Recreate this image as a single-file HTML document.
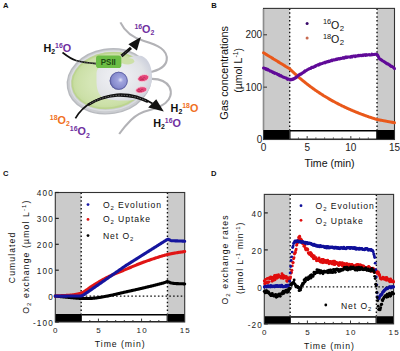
<!DOCTYPE html>
<html><head><meta charset="utf-8"><style>
html,body{margin:0;padding:0;background:#fff;width:400px;height:351px;overflow:hidden}
svg{display:block;font-family:"Liberation Sans",sans-serif}
</style></head><body>
<svg width="400" height="351" viewBox="0 0 400 351" font-family="'Liberation Sans', sans-serif"><rect x="263.50" y="8.40" width="26.20" height="121.60" fill="#cbcbcb"/>
<rect x="377.03" y="8.40" width="17.47" height="121.60" fill="#cbcbcb"/>
<rect x="263.50" y="130.00" width="26.20" height="9.50" fill="#000"/>
<rect x="377.03" y="130.00" width="17.47" height="9.50" fill="#000"/>
<rect x="289.70" y="130.00" width="87.33" height="9.50" fill="#000"/>
<rect x="290.50" y="131.50" width="85.73" height="7.10" fill="#fff"/>
<line x1="289.70" y1="8.40" x2="289.70" y2="130.00" stroke="#111" stroke-width="1.4" stroke-dasharray="1.5,2.4"/>
<line x1="377.03" y1="8.40" x2="377.03" y2="130.00" stroke="#111" stroke-width="1.4" stroke-dasharray="1.5,2.4"/>
<line x1="298.43" y1="138.60" x2="298.43" y2="137.50" stroke="#222" stroke-width="0.9"/>
<line x1="307.17" y1="138.60" x2="307.17" y2="136.10" stroke="#222" stroke-width="0.9"/>
<line x1="315.90" y1="138.60" x2="315.90" y2="137.50" stroke="#222" stroke-width="0.9"/>
<line x1="324.63" y1="138.60" x2="324.63" y2="137.50" stroke="#222" stroke-width="0.9"/>
<line x1="333.37" y1="138.60" x2="333.37" y2="137.50" stroke="#222" stroke-width="0.9"/>
<line x1="342.10" y1="138.60" x2="342.10" y2="137.50" stroke="#222" stroke-width="0.9"/>
<line x1="350.83" y1="138.60" x2="350.83" y2="136.10" stroke="#222" stroke-width="0.9"/>
<line x1="359.57" y1="138.60" x2="359.57" y2="137.50" stroke="#222" stroke-width="0.9"/>
<line x1="368.30" y1="138.60" x2="368.30" y2="137.50" stroke="#222" stroke-width="0.9"/>
<rect x="263.50" y="8.40" width="131.00" height="131.10" fill="none" stroke="#333" stroke-width="1.1"/>
<line x1="263.50" y1="9.00" x2="263.50" y2="130.00" stroke="#8c8c8c" stroke-width="1.5"/>
<line x1="263.50" y1="87.15" x2="267.00" y2="87.15" stroke="#333" stroke-width="1"/>
<text x="262.20" y="90.75" font-size="10" text-anchor="end" font-weight="normal" fill="#222" >100</text>
<line x1="263.50" y1="34.80" x2="267.00" y2="34.80" stroke="#333" stroke-width="1"/>
<text x="262.20" y="38.40" font-size="10" text-anchor="end" font-weight="normal" fill="#222" >200</text>
<text x="262.20" y="143.40" font-size="10" text-anchor="end" font-weight="normal" fill="#222" >0</text>
<text x="263.50" y="151.20" font-size="10" text-anchor="middle" font-weight="normal" fill="#222" >0</text>
<text x="307.17" y="151.20" font-size="10" text-anchor="middle" font-weight="normal" fill="#222" >5</text>
<text x="350.83" y="151.20" font-size="10" text-anchor="middle" font-weight="normal" fill="#222" >10</text>
<text x="394.50" y="151.20" font-size="10" text-anchor="middle" font-weight="normal" fill="#222" >15</text>
<text x="329.50" y="166.50" font-size="10.6" text-anchor="middle" font-weight="normal" fill="#111" >Time (min)</text>
<g transform="translate(227.6,72.9) rotate(-90)"><text x="0" y="0" font-size="10.9" text-anchor="middle" fill="#111">Gas concentrations</text></g>
<g transform="translate(242.2,70.4) rotate(-90)"><text x="0" y="0" font-size="10.5" text-anchor="middle" fill="#111">(µmol L<tspan dy="-4" font-size="6.8">-1</tspan><tspan dy="4">)</tspan></text></g>
<polyline points="263.50,52.76 263.94,53.02 264.37,53.29 264.81,53.56 265.25,53.83 265.68,54.10 266.12,54.36 266.56,54.63 266.99,54.90 267.43,55.17 267.87,55.43 268.30,55.70 268.74,55.97 269.18,56.24 269.61,56.51 270.05,56.77 270.49,57.04 270.92,57.31 271.36,57.58 271.80,57.85 272.23,58.11 272.67,58.38 273.11,58.65 273.54,58.92 273.98,59.18 274.42,59.45 274.85,59.72 275.29,59.99 275.73,60.26 276.16,60.52 276.60,60.79 277.04,61.06 277.47,61.33 277.91,61.60 278.35,61.86 278.78,62.13 279.22,62.40 279.66,62.67 280.09,62.93 280.53,63.20 280.97,63.47 281.40,63.74 281.84,64.01 282.28,64.27 282.71,64.54 283.15,64.81 283.59,65.08 284.02,65.35 284.46,65.61 284.90,65.88 285.33,66.15 285.77,66.42 286.21,66.68 286.64,66.95 287.08,67.22 287.52,67.49 287.95,67.76 288.39,68.02 288.83,68.29 289.26,68.56 289.70,68.83 290.14,69.25 290.57,69.68 291.01,70.10 291.45,70.52 291.88,70.94 292.32,71.35 292.76,71.76 293.19,72.17 293.63,72.58 294.07,72.99 294.50,73.39 294.94,73.79 295.38,74.19 295.81,74.58 296.25,74.98 296.69,75.37 297.12,75.76 297.56,76.15 298.00,76.53 298.43,76.91 298.87,77.29 299.31,77.67 299.74,78.05 300.18,78.42 300.62,78.79 301.05,79.16 301.49,79.53 301.93,79.89 302.36,80.25 302.80,80.62 303.24,80.97 303.67,81.33 304.11,81.69 304.55,82.04 304.98,82.39 305.42,82.74 305.86,83.08 306.29,83.43 306.73,83.77 307.17,84.11 307.60,84.45 308.04,84.79 308.48,85.12 308.91,85.45 309.35,85.78 309.79,86.11 310.22,86.44 310.66,86.76 311.10,87.09 311.53,87.41 311.97,87.73 312.41,88.05 312.84,88.36 313.28,88.68 313.72,88.99 314.15,89.30 314.59,89.61 315.03,89.91 315.46,90.22 315.90,90.52 316.34,90.82 316.77,91.12 317.21,91.42 317.65,91.72 318.08,92.01 318.52,92.30 318.96,92.60 319.39,92.88 319.83,93.17 320.27,93.46 320.70,93.74 321.14,94.03 321.58,94.31 322.01,94.59 322.45,94.86 322.89,95.14 323.32,95.42 323.76,95.69 324.20,95.96 324.63,96.23 325.07,96.50 325.51,96.77 325.94,97.03 326.38,97.29 326.82,97.56 327.25,97.82 327.69,98.08 328.13,98.33 328.56,98.59 329.00,98.85 329.44,99.10 329.87,99.35 330.31,99.60 330.75,99.85 331.18,100.10 331.62,100.34 332.06,100.59 332.49,100.83 332.93,101.07 333.37,101.31 333.80,101.55 334.24,101.79 334.68,102.03 335.11,102.26 335.55,102.49 335.99,102.73 336.42,102.96 336.86,103.19 337.30,103.41 337.73,103.64 338.17,103.87 338.61,104.09 339.04,104.31 339.48,104.54 339.92,104.76 340.35,104.98 340.79,105.19 341.23,105.41 341.66,105.63 342.10,105.84 342.54,106.05 342.97,106.26 343.41,106.47 343.85,106.68 344.28,106.89 344.72,107.10 345.16,107.30 345.59,107.51 346.03,107.71 346.47,107.91 346.90,108.11 347.34,108.31 347.78,108.51 348.21,108.71 348.65,108.91 349.09,109.10 349.52,109.29 349.96,109.49 350.40,109.68 350.83,109.87 351.27,110.06 351.71,110.25 352.14,110.44 352.58,110.62 353.02,110.81 353.45,110.99 353.89,111.17 354.33,111.36 354.76,111.54 355.20,111.72 355.64,111.90 356.07,112.07 356.51,112.25 356.95,112.43 357.38,112.60 357.82,112.77 358.26,112.95 358.69,113.12 359.13,113.29 359.57,113.46 360.00,113.63 360.44,113.80 360.88,113.96 361.31,114.13 361.75,114.29 362.19,114.46 362.62,114.62 363.06,114.78 363.50,114.94 363.93,115.10 364.37,115.26 364.81,115.42 365.24,115.58 365.68,115.74 366.12,115.89 366.55,116.05 366.99,116.20 367.43,116.35 367.86,116.50 368.30,116.66 368.74,116.81 369.17,116.96 369.61,117.10 370.05,117.25 370.48,117.40 370.92,117.54 371.36,117.69 371.79,117.83 372.23,117.98 372.67,118.12 373.10,118.26 373.54,118.40 373.98,118.54 374.41,118.68 374.85,118.82 375.29,118.96 375.72,119.10 376.16,119.23 376.60,119.37 377.03,119.50 377.47,119.58 377.91,119.66 378.34,119.74 378.78,119.83 379.22,119.91 379.65,119.99 380.09,120.07 380.53,120.15 380.96,120.23 381.40,120.31 381.84,120.39 382.27,120.48 382.71,120.56 383.15,120.64 383.58,120.72 384.02,120.80 384.46,120.88 384.89,120.96 385.33,121.04 385.77,121.12 386.20,121.21 386.64,121.29 387.08,121.37 387.51,121.45 387.95,121.53 388.39,121.61 388.82,121.69 389.26,121.77 389.70,121.86 390.13,121.94 390.57,122.02 391.01,122.10 391.44,122.18 391.88,122.26 392.32,122.34 392.75,122.42 393.19,122.50 393.63,122.59 394.06,122.67 394.50,122.75" fill="none" stroke="#e9581a" stroke-width="3" stroke-linejoin="round" stroke-linecap="round" />
<polyline points="263.50,68.00 263.94,67.95 264.37,68.30 264.81,68.31 265.25,68.50 265.68,69.17 266.12,69.42 266.56,68.93 266.99,69.62 267.43,69.85 267.87,69.42 268.30,70.06 268.74,69.96 269.18,70.47 269.61,70.53 270.05,71.15 270.49,70.95 270.92,70.96 271.36,71.45 271.80,71.47 272.23,71.74 272.67,72.45 273.11,72.08 273.54,72.42 273.98,72.87 274.42,73.30 274.85,72.81 275.29,73.34 275.73,73.34 276.16,73.41 276.60,73.75 277.04,73.78 277.47,74.43 277.91,74.29 278.35,74.80 278.78,74.59 279.22,74.84 279.66,75.70 280.09,75.88 280.53,76.01 280.97,75.59 281.40,76.24 281.84,76.29 282.28,76.76 282.71,76.80 283.15,77.10 283.59,77.34 284.02,77.35 284.46,77.55 284.90,77.49 285.33,77.88 285.77,77.88 286.21,78.14 286.64,78.26 287.08,78.74 287.52,79.34 287.95,78.91 288.39,78.95 288.83,79.10 289.26,79.46 289.70,79.39 290.14,79.84 290.57,79.32 291.01,79.51 291.45,79.70 291.88,79.80 292.32,79.04 292.76,78.79 293.19,79.39 293.63,78.62 294.07,78.74 294.50,78.72 294.94,78.34 295.38,77.66 295.81,77.26 296.25,77.61 296.69,76.80 297.12,76.94 297.56,76.05 298.00,76.05 298.43,75.27 298.87,74.87 299.31,74.96 299.74,74.24 300.18,74.51 300.62,74.41 301.05,73.68 301.49,73.86 301.93,73.44 302.36,72.98 302.80,72.53 303.24,72.63 303.67,72.46 304.11,71.50 304.55,71.70 304.98,70.90 305.42,70.69 305.86,70.87 306.29,70.55 306.73,70.25 307.17,69.91 307.60,69.71 308.04,69.50 308.48,69.21 308.91,68.71 309.35,68.85 309.79,68.69 310.22,68.22 310.66,68.41 311.10,68.14 311.53,67.36 311.97,67.53 312.41,67.30 312.84,67.55 313.28,67.01 313.72,66.67 314.15,66.94 314.59,66.25 315.03,66.04 315.46,66.33 315.90,65.67 316.34,65.62 316.77,65.26 317.21,65.36 317.65,64.88 318.08,64.68 318.52,65.11 318.96,64.91 319.39,64.23 319.83,63.82 320.27,64.26 320.70,63.92 321.14,63.65 321.58,63.72 322.01,63.53 322.45,63.42 322.89,63.23 323.32,62.89 323.76,62.99 324.20,62.78 324.63,62.31 325.07,62.79 325.51,62.20 325.94,61.92 326.38,62.15 326.82,62.09 327.25,61.47 327.69,61.81 328.13,61.73 328.56,61.39 329.00,61.05 329.44,61.43 329.87,61.12 330.31,60.99 330.75,60.46 331.18,60.67 331.62,60.21 332.06,60.67 332.49,60.42 332.93,60.04 333.37,59.74 333.80,59.99 334.24,60.08 334.68,60.06 335.11,59.62 335.55,59.80 335.99,59.18 336.42,59.06 336.86,59.51 337.30,59.33 337.73,58.80 338.17,58.84 338.61,58.61 339.04,58.91 339.48,59.00 339.92,58.77 340.35,58.26 340.79,58.62 341.23,58.47 341.66,58.32 342.10,58.24 342.54,58.17 342.97,57.66 343.41,58.22 343.85,58.27 344.28,57.40 344.72,57.38 345.16,57.21 345.59,57.60 346.03,57.10 346.47,57.04 346.90,57.56 347.34,57.05 347.78,56.91 348.21,56.99 348.65,57.04 349.09,57.16 349.52,57.05 349.96,57.08 350.40,57.15 350.83,56.65 351.27,56.84 351.71,56.35 352.14,56.93 352.58,56.15 353.02,56.26 353.45,56.01 353.89,55.98 354.33,55.92 354.76,56.13 355.20,56.55 355.64,55.88 356.07,56.31 356.51,56.15 356.95,55.79 357.38,55.86 357.82,55.90 358.26,55.41 358.69,55.63 359.13,55.81 359.57,55.84 360.00,55.28 360.44,55.55 360.88,55.25 361.31,55.57 361.75,55.65 362.19,55.32 362.62,55.04 363.06,55.54 363.50,54.98 363.93,54.83 364.37,54.88 364.81,54.83 365.24,55.47 365.68,54.91 366.12,54.67 366.55,55.31 366.99,55.09 367.43,55.06 367.86,54.80 368.30,54.85 368.74,54.77 369.17,54.48 369.61,55.10 370.05,55.02 370.48,54.92 370.92,54.89 371.36,54.90 371.79,54.11 372.23,54.18 372.67,54.79 373.10,54.41 373.54,54.54 373.98,54.51 374.41,54.44 374.85,54.17 375.29,54.19 375.72,54.35 376.16,54.46 376.60,54.32 377.03,54.46 377.47,54.89 377.91,55.54 378.34,56.61 378.78,57.65 379.22,58.36 379.65,58.99 380.09,59.07 380.53,59.20 380.96,59.81 381.40,59.74 381.84,60.16 382.27,60.60 382.71,60.93 383.15,61.10 383.58,61.21 384.02,61.72 384.46,61.77 384.89,62.24 385.33,62.70 385.77,62.73 386.20,62.87 386.64,63.67 387.08,63.66 387.51,63.93 387.95,63.83 388.39,64.06 388.82,64.81 389.26,64.64 389.70,65.01 390.13,65.73 390.57,65.84 391.01,66.40 391.44,66.10 391.88,66.51 392.32,66.59 392.75,66.95 393.19,67.33 393.63,67.55 394.06,67.97 394.50,68.64" fill="none" stroke="#600a98" stroke-width="3" stroke-linejoin="round" stroke-linecap="round" />
<circle cx="307.1" cy="23.4" r="1.5" fill="#3a0a6a"/>
<circle cx="307.1" cy="38.1" r="1.5" fill="#c86a50"/>
<text x="322.9" y="28.6" font-size="10.6" fill="#111"><tspan font-size="7.4" dy="-4.4">16</tspan><tspan dy="4.4" dx="-0.2">O</tspan><tspan font-size="7.8" dy="2" dx="0.6">2</tspan></text>
<text x="322.9" y="43.0" font-size="10.6" fill="#111"><tspan font-size="7.4" dy="-4.4">18</tspan><tspan dy="4.4" dx="-0.2">O</tspan><tspan font-size="7.8" dy="2" dx="0.6">2</tspan></text>
<rect x="55.30" y="192.50" width="25.88" height="121.50" fill="#cbcbcb"/>
<rect x="167.45" y="192.50" width="17.25" height="121.50" fill="#cbcbcb"/>
<rect x="55.30" y="314.00" width="25.88" height="8.00" fill="#000"/>
<rect x="167.45" y="314.00" width="17.25" height="8.00" fill="#000"/>
<rect x="81.18" y="314.00" width="86.27" height="8.00" fill="#000"/>
<rect x="81.98" y="315.50" width="84.67" height="5.60" fill="#fff"/>
<line x1="81.18" y1="192.50" x2="81.18" y2="314.00" stroke="#111" stroke-width="1.4" stroke-dasharray="1.5,2.4"/>
<line x1="167.45" y1="192.50" x2="167.45" y2="314.00" stroke="#111" stroke-width="1.4" stroke-dasharray="1.5,2.4"/>
<line x1="89.81" y1="321.10" x2="89.81" y2="320.00" stroke="#222" stroke-width="0.9"/>
<line x1="98.43" y1="321.10" x2="98.43" y2="318.60" stroke="#222" stroke-width="0.9"/>
<line x1="107.06" y1="321.10" x2="107.06" y2="320.00" stroke="#222" stroke-width="0.9"/>
<line x1="115.69" y1="321.10" x2="115.69" y2="320.00" stroke="#222" stroke-width="0.9"/>
<line x1="124.31" y1="321.10" x2="124.31" y2="320.00" stroke="#222" stroke-width="0.9"/>
<line x1="132.94" y1="321.10" x2="132.94" y2="320.00" stroke="#222" stroke-width="0.9"/>
<line x1="141.57" y1="321.10" x2="141.57" y2="318.60" stroke="#222" stroke-width="0.9"/>
<line x1="150.19" y1="321.10" x2="150.19" y2="320.00" stroke="#222" stroke-width="0.9"/>
<line x1="158.82" y1="321.10" x2="158.82" y2="320.00" stroke="#222" stroke-width="0.9"/>
<rect x="55.30" y="192.50" width="129.40" height="129.50" fill="none" stroke="#333" stroke-width="1.1"/>
<line x1="55.30" y1="296.10" x2="184.70" y2="296.10" stroke="#111" stroke-width="1.4" stroke-dasharray="1.6,2.2"/>
<line x1="55.30" y1="192.50" x2="58.80" y2="192.50" stroke="#222" stroke-width="1.2"/>
<text x="54.10" y="196.10" font-size="8.2" text-anchor="end" font-weight="normal" fill="#222" letter-spacing="1.2" >400</text>
<line x1="55.30" y1="218.40" x2="58.80" y2="218.40" stroke="#222" stroke-width="1.2"/>
<text x="54.10" y="222.00" font-size="8.2" text-anchor="end" font-weight="normal" fill="#222" letter-spacing="1.2" >300</text>
<line x1="55.30" y1="244.30" x2="58.80" y2="244.30" stroke="#222" stroke-width="1.2"/>
<text x="54.10" y="247.90" font-size="8.2" text-anchor="end" font-weight="normal" fill="#222" letter-spacing="1.2" >200</text>
<line x1="55.30" y1="270.20" x2="58.80" y2="270.20" stroke="#222" stroke-width="1.2"/>
<text x="54.10" y="273.80" font-size="8.2" text-anchor="end" font-weight="normal" fill="#222" letter-spacing="1.2" >100</text>
<line x1="55.30" y1="296.10" x2="58.80" y2="296.10" stroke="#222" stroke-width="1.2"/>
<text x="54.10" y="299.70" font-size="8.2" text-anchor="end" font-weight="normal" fill="#222" letter-spacing="1.2" >0</text>
<line x1="55.30" y1="322.00" x2="58.80" y2="322.00" stroke="#222" stroke-width="1.2"/>
<text x="54.10" y="325.60" font-size="8.2" text-anchor="end" font-weight="normal" fill="#222" letter-spacing="1.2" >-100</text>
<text x="55.90" y="333.20" font-size="8" text-anchor="middle" font-weight="normal" fill="#222" letter-spacing="1.2" >0</text>
<text x="99.03" y="333.20" font-size="8" text-anchor="middle" font-weight="normal" fill="#222" letter-spacing="1.2" >5</text>
<text x="142.17" y="333.20" font-size="8" text-anchor="middle" font-weight="normal" fill="#222" letter-spacing="1.2" >10</text>
<text x="185.30" y="333.20" font-size="8" text-anchor="middle" font-weight="normal" fill="#222" letter-spacing="1.2" >15</text>
<text x="120.20" y="346.60" font-size="8.7" text-anchor="middle" font-weight="normal" fill="#111" letter-spacing="0.96" >Time (min)</text>
<g transform="translate(15.3,257.4) rotate(-90)"><text x="0" y="0" font-size="8.6" text-anchor="middle" fill="#111" letter-spacing="1.1">Cumulated</text></g>
<g transform="translate(28.8,256.6) rotate(-90)"><text x="0" y="0" font-size="8.6" text-anchor="middle" fill="#111" letter-spacing="1.15">O<tspan font-size="5.9" dy="2">2</tspan><tspan dy="-2"> exchange (µmol L</tspan><tspan font-size="5.9" dy="-3">-1</tspan><tspan dy="3">)</tspan></text></g>
<polyline points="55.30,296.10 55.95,296.16 56.59,296.23 57.24,296.29 57.89,296.35 58.53,296.42 59.18,296.48 59.83,296.55 60.48,296.61 61.12,296.68 61.77,296.74 62.42,296.81 63.06,296.88 63.71,296.94 64.36,297.01 65.00,297.07 65.65,297.14 66.30,297.20 66.95,297.26 67.59,297.33 68.24,297.39 68.89,297.45 69.53,297.52 70.18,297.58 70.83,297.64 71.47,297.70 72.12,297.76 72.77,297.81 73.42,297.87 74.06,297.93 74.71,297.98 75.36,298.03 76.00,298.09 76.65,298.15 77.30,298.21 77.94,298.27 78.59,298.32 79.24,298.37 79.89,298.40 80.53,298.42 81.18,298.43 81.83,298.43 82.47,298.43 83.12,298.43 83.77,298.43 84.41,298.43 85.06,298.43 85.71,298.43 86.36,298.43 87.00,298.43 87.65,298.43 88.30,298.43 88.94,298.43 89.59,298.43 90.24,298.43 90.88,298.42 91.53,298.39 92.18,298.36 92.83,298.31 93.47,298.26 94.12,298.20 94.77,298.13 95.41,298.06 96.06,297.98 96.71,297.89 97.35,297.80 98.00,297.70 98.65,297.59 99.30,297.49 99.94,297.38 100.59,297.27 101.24,297.15 101.88,297.04 102.53,296.92 103.18,296.81 103.82,296.69 104.47,296.58 105.12,296.47 105.77,296.35 106.41,296.23 107.06,296.11 107.71,295.99 108.35,295.86 109.00,295.73 109.65,295.60 110.29,295.46 110.94,295.32 111.59,295.18 112.24,295.04 112.88,294.90 113.53,294.76 114.18,294.61 114.82,294.46 115.47,294.31 116.12,294.16 116.76,294.01 117.41,293.86 118.06,293.71 118.71,293.56 119.35,293.41 120.00,293.26 120.65,293.10 121.29,292.95 121.94,292.80 122.59,292.65 123.23,292.51 123.88,292.36 124.53,292.21 125.18,292.07 125.82,291.92 126.47,291.78 127.12,291.63 127.76,291.49 128.41,291.35 129.06,291.20 129.70,291.06 130.35,290.91 131.00,290.77 131.65,290.63 132.29,290.48 132.94,290.34 133.59,290.19 134.23,290.05 134.88,289.90 135.53,289.76 136.17,289.61 136.82,289.46 137.47,289.32 138.12,289.17 138.76,289.02 139.41,288.87 140.06,288.72 140.70,288.57 141.35,288.42 142.00,288.27 142.64,288.12 143.29,287.97 143.94,287.81 144.59,287.66 145.23,287.50 145.88,287.35 146.53,287.19 147.17,287.04 147.82,286.88 148.47,286.73 149.11,286.58 149.76,286.42 150.41,286.27 151.06,286.12 151.70,285.96 152.35,285.81 153.00,285.65 153.64,285.50 154.29,285.34 154.94,285.18 155.58,285.02 156.23,284.86 156.88,284.70 157.53,284.53 158.17,284.37 158.82,284.20 159.47,284.03 160.11,283.85 160.76,283.68 161.41,283.50 162.05,283.32 162.70,283.14 163.35,282.95 164.00,282.76 164.64,282.57 165.29,282.34 165.94,282.05 166.58,281.77 167.23,281.61 167.88,281.64 168.52,281.85 169.17,282.15 169.82,282.48 170.47,282.76 171.11,282.94 171.76,283.06 172.41,283.17 173.05,283.27 173.70,283.35 174.35,283.42 174.99,283.48 175.64,283.53 176.29,283.58 176.94,283.61 177.58,283.65 178.23,283.67 178.88,283.69 179.52,283.71 180.17,283.73 180.82,283.75 181.46,283.77 182.11,283.79 182.76,283.82 183.41,283.85 184.05,283.88 184.70,283.93" fill="none" stroke="#000" stroke-width="3.1" stroke-linejoin="round" stroke-linecap="round" />
<polyline points="55.30,296.10 55.95,296.03 56.59,295.97 57.24,295.91 57.89,295.86 58.53,295.82 59.18,295.77 59.83,295.73 60.48,295.70 61.12,295.66 61.77,295.63 62.42,295.60 63.06,295.57 63.71,295.54 64.36,295.51 65.00,295.48 65.65,295.45 66.30,295.42 66.95,295.38 67.59,295.34 68.24,295.30 68.89,295.26 69.53,295.21 70.18,295.15 70.83,295.09 71.47,295.03 72.12,294.96 72.77,294.88 73.42,294.79 74.06,294.70 74.71,294.59 75.36,294.48 76.00,294.36 76.65,294.23 77.30,294.09 77.94,293.94 78.59,293.77 79.24,293.60 79.89,293.41 80.53,293.21 81.18,292.99 81.83,292.75 82.47,292.46 83.12,292.14 83.77,291.78 84.41,291.40 85.06,290.98 85.71,290.55 86.36,290.10 87.00,289.64 87.65,289.18 88.30,288.70 88.94,288.23 89.59,287.76 90.24,287.31 90.88,286.86 91.53,286.43 92.18,286.03 92.83,285.63 93.47,285.24 94.12,284.84 94.77,284.45 95.41,284.05 96.06,283.65 96.71,283.26 97.35,282.87 98.00,282.48 98.65,282.09 99.30,281.70 99.94,281.32 100.59,280.94 101.24,280.56 101.88,280.19 102.53,279.82 103.18,279.46 103.82,279.10 104.47,278.75 105.12,278.40 105.77,278.06 106.41,277.73 107.06,277.41 107.71,277.09 108.35,276.78 109.00,276.47 109.65,276.16 110.29,275.87 110.94,275.57 111.59,275.28 112.24,275.00 112.88,274.72 113.53,274.44 114.18,274.16 114.82,273.89 115.47,273.62 116.12,273.35 116.76,273.08 117.41,272.82 118.06,272.55 118.71,272.29 119.35,272.03 120.00,271.77 120.65,271.50 121.29,271.24 121.94,270.98 122.59,270.72 123.23,270.45 123.88,270.18 124.53,269.92 125.18,269.65 125.82,269.37 126.47,269.10 127.12,268.83 127.76,268.56 128.41,268.29 129.06,268.02 129.70,267.74 130.35,267.47 131.00,267.20 131.65,266.93 132.29,266.66 132.94,266.39 133.59,266.13 134.23,265.86 134.88,265.59 135.53,265.33 136.17,265.07 136.82,264.81 137.47,264.55 138.12,264.29 138.76,264.03 139.41,263.78 140.06,263.53 140.70,263.28 141.35,263.03 142.00,262.79 142.64,262.54 143.29,262.30 143.94,262.06 144.59,261.83 145.23,261.59 145.88,261.36 146.53,261.12 147.17,260.89 147.82,260.66 148.47,260.44 149.11,260.21 149.76,259.99 150.41,259.76 151.06,259.54 151.70,259.32 152.35,259.10 153.00,258.89 153.64,258.67 154.29,258.46 154.94,258.24 155.58,258.03 156.23,257.82 156.88,257.61 157.53,257.41 158.17,257.20 158.82,257.00 159.47,256.79 160.11,256.59 160.76,256.39 161.41,256.20 162.05,256.00 162.70,255.81 163.35,255.62 164.00,255.44 164.64,255.26 165.29,255.08 165.94,254.91 166.58,254.74 167.23,254.58 167.88,254.43 168.52,254.28 169.17,254.14 169.82,254.00 170.47,253.87 171.11,253.74 171.76,253.62 172.41,253.50 173.05,253.38 173.70,253.26 174.35,253.15 174.99,253.03 175.64,252.92 176.29,252.81 176.94,252.70 177.58,252.60 178.23,252.50 178.88,252.40 179.52,252.30 180.17,252.21 180.82,252.11 181.46,252.02 182.11,251.93 182.76,251.84 183.41,251.74 184.05,251.65 184.70,251.55" fill="none" stroke="#e01515" stroke-width="3.1" stroke-linejoin="round" stroke-linecap="round" />
<polyline points="55.30,296.10 55.95,296.10 56.59,296.10 57.24,296.10 57.89,296.09 58.53,296.09 59.18,296.09 59.83,296.09 60.48,296.09 61.12,296.09 61.77,296.09 62.42,296.09 63.06,296.08 63.71,296.08 64.36,296.08 65.00,296.08 65.65,296.08 66.30,296.08 66.95,296.08 67.59,296.07 68.24,296.07 68.89,296.07 69.53,296.07 70.18,296.07 70.83,296.07 71.47,296.07 72.12,296.07 72.77,296.06 73.42,296.06 74.06,296.06 74.71,296.06 75.36,296.06 76.00,296.06 76.65,296.06 77.30,296.06 77.94,296.05 78.59,296.05 79.24,296.05 79.89,296.05 80.53,296.05 81.18,295.90 81.83,295.69 82.47,295.47 83.12,295.18 83.77,294.76 84.41,294.34 85.06,293.92 85.71,293.49 86.36,293.04 87.00,292.59 87.65,292.14 88.30,291.69 88.94,291.24 89.59,290.78 90.24,290.33 90.88,289.88 91.53,289.43 92.18,288.98 92.83,288.53 93.47,288.08 94.12,287.63 94.77,287.18 95.41,286.73 96.06,286.28 96.71,285.83 97.35,285.38 98.00,284.93 98.65,284.48 99.30,284.02 99.94,283.57 100.59,283.12 101.24,282.67 101.88,282.22 102.53,281.77 103.18,281.32 103.82,280.87 104.47,280.42 105.12,279.97 105.77,279.52 106.41,279.07 107.06,278.62 107.71,278.17 108.35,277.71 109.00,277.26 109.65,276.81 110.29,276.36 110.94,275.91 111.59,275.46 112.24,275.01 112.88,274.56 113.53,274.11 114.18,273.66 114.82,273.21 115.47,272.76 116.12,272.31 116.76,271.86 117.41,271.40 118.06,270.95 118.71,270.50 119.35,270.05 120.00,269.60 120.65,269.15 121.29,268.70 121.94,268.25 122.59,267.80 123.23,267.35 123.88,266.90 124.53,266.45 125.18,266.00 125.82,265.59 126.47,265.19 127.12,264.78 127.76,264.37 128.41,263.96 129.06,263.56 129.70,263.15 130.35,262.74 131.00,262.33 131.65,261.93 132.29,261.52 132.94,261.11 133.59,260.70 134.23,260.30 134.88,259.89 135.53,259.48 136.17,259.07 136.82,258.67 137.47,258.26 138.12,257.85 138.76,257.44 139.41,257.04 140.06,256.63 140.70,256.22 141.35,255.81 142.00,255.41 142.64,255.00 143.29,254.59 143.94,254.18 144.59,253.78 145.23,253.37 145.88,252.96 146.53,252.55 147.17,252.15 147.82,251.74 148.47,251.33 149.11,250.92 149.76,250.52 150.41,250.11 151.06,249.70 151.70,249.29 152.35,248.89 153.00,248.48 153.64,248.07 154.29,247.66 154.94,247.26 155.58,246.85 156.23,246.44 156.88,246.03 157.53,245.63 158.17,245.22 158.82,244.81 159.47,244.40 160.11,244.00 160.76,243.59 161.41,243.18 162.05,242.77 162.70,242.37 163.35,241.96 164.00,241.55 164.64,241.14 165.29,240.74 165.94,240.33 166.58,239.92 167.23,239.51 167.88,239.38 168.52,239.38 169.17,239.64 169.82,240.03 170.47,240.41 171.11,240.68 171.76,240.71 172.41,240.73 173.05,240.75 173.70,240.78 174.35,240.80 174.99,240.83 175.64,240.85 176.29,240.88 176.94,240.90 177.58,240.92 178.23,240.95 178.88,240.97 179.52,241.00 180.17,241.02 180.82,241.05 181.46,241.07 182.11,241.09 182.76,241.12 183.41,241.14 184.05,241.17 184.70,241.19" fill="none" stroke="#15159e" stroke-width="3.1" stroke-linejoin="round" stroke-linecap="round" />
<circle cx="88" cy="204.6" r="1.4" fill="#1a1aa6"/>
<circle cx="88" cy="219.4" r="1.4" fill="#e01515"/>
<circle cx="88" cy="235.6" r="1.4" fill="#000"/>
<text x="102.9" y="207.8" font-size="8.6" fill="#111" letter-spacing="0.95">O<tspan font-size="5.9" dy="2">2</tspan><tspan dy="-2"> Evolution</tspan></text>
<text x="102.9" y="222.4" font-size="8.6" fill="#111" letter-spacing="0.95">O<tspan font-size="5.9" dy="2">2</tspan><tspan dy="-2"> Uptake</tspan></text>
<text x="102.9" y="238.9" font-size="8.6" fill="#111" letter-spacing="0.95">Net O<tspan font-size="5.9" dy="2">2</tspan></text>
<rect x="264.30" y="194.40" width="25.86" height="121.80" fill="#cbcbcb"/>
<rect x="376.36" y="194.40" width="17.24" height="121.80" fill="#cbcbcb"/>
<rect x="264.30" y="316.20" width="25.86" height="7.70" fill="#000"/>
<rect x="376.36" y="316.20" width="17.24" height="7.70" fill="#000"/>
<rect x="290.16" y="316.20" width="86.20" height="7.70" fill="#000"/>
<rect x="290.96" y="317.70" width="84.60" height="5.30" fill="#fff"/>
<line x1="290.16" y1="194.40" x2="290.16" y2="316.20" stroke="#111" stroke-width="1.4" stroke-dasharray="1.5,2.4"/>
<line x1="376.36" y1="194.40" x2="376.36" y2="316.20" stroke="#111" stroke-width="1.4" stroke-dasharray="1.5,2.4"/>
<line x1="298.78" y1="323.00" x2="298.78" y2="321.90" stroke="#222" stroke-width="0.9"/>
<line x1="307.40" y1="323.00" x2="307.40" y2="320.50" stroke="#222" stroke-width="0.9"/>
<line x1="316.02" y1="323.00" x2="316.02" y2="321.90" stroke="#222" stroke-width="0.9"/>
<line x1="324.64" y1="323.00" x2="324.64" y2="321.90" stroke="#222" stroke-width="0.9"/>
<line x1="333.26" y1="323.00" x2="333.26" y2="321.90" stroke="#222" stroke-width="0.9"/>
<line x1="341.88" y1="323.00" x2="341.88" y2="321.90" stroke="#222" stroke-width="0.9"/>
<line x1="350.50" y1="323.00" x2="350.50" y2="320.50" stroke="#222" stroke-width="0.9"/>
<line x1="359.12" y1="323.00" x2="359.12" y2="321.90" stroke="#222" stroke-width="0.9"/>
<line x1="367.74" y1="323.00" x2="367.74" y2="321.90" stroke="#222" stroke-width="0.9"/>
<rect x="264.30" y="194.40" width="129.30" height="129.50" fill="none" stroke="#333" stroke-width="1.1"/>
<line x1="264.30" y1="286.90" x2="393.60" y2="286.90" stroke="#111" stroke-width="1.4" stroke-dasharray="1.6,2.2"/>
<line x1="264.30" y1="212.90" x2="267.80" y2="212.90" stroke="#222" stroke-width="1.2"/>
<text x="263.10" y="216.50" font-size="8.2" text-anchor="end" font-weight="normal" fill="#222" letter-spacing="1.2" >40</text>
<line x1="264.30" y1="249.90" x2="267.80" y2="249.90" stroke="#222" stroke-width="1.2"/>
<text x="263.10" y="253.50" font-size="8.2" text-anchor="end" font-weight="normal" fill="#222" letter-spacing="1.2" >20</text>
<line x1="264.30" y1="286.90" x2="267.80" y2="286.90" stroke="#222" stroke-width="1.2"/>
<text x="263.10" y="290.50" font-size="8.2" text-anchor="end" font-weight="normal" fill="#222" letter-spacing="1.2" >0</text>
<line x1="264.30" y1="323.90" x2="267.80" y2="323.90" stroke="#222" stroke-width="1.2"/>
<text x="263.10" y="327.50" font-size="8.2" text-anchor="end" font-weight="normal" fill="#222" letter-spacing="1.2" >-20</text>
<text x="264.90" y="335.00" font-size="8" text-anchor="middle" font-weight="normal" fill="#222" letter-spacing="1.2" >0</text>
<text x="308.00" y="335.00" font-size="8" text-anchor="middle" font-weight="normal" fill="#222" letter-spacing="1.2" >5</text>
<text x="351.10" y="335.00" font-size="8" text-anchor="middle" font-weight="normal" fill="#222" letter-spacing="1.2" >10</text>
<text x="394.20" y="335.00" font-size="8" text-anchor="middle" font-weight="normal" fill="#222" letter-spacing="1.2" >15</text>
<text x="329.40" y="348.60" font-size="8.7" text-anchor="middle" font-weight="normal" fill="#111" letter-spacing="0.96" >Time (min)</text>
<g transform="translate(228.0,259.4) rotate(-90)"><text x="0" y="0" font-size="8.6" text-anchor="middle" fill="#111" letter-spacing="1.12">O<tspan font-size="5.9" dy="2">2</tspan><tspan dy="-2"> exchange rates</tspan></text></g>
<g transform="translate(243.4,257.9) rotate(-90)"><text x="0" y="0" font-size="8.6" text-anchor="middle" fill="#111" letter-spacing="0.85">(µmol L<tspan font-size="5.9" dy="-3.2">-1</tspan><tspan dy="3.2"> min</tspan><tspan font-size="5.9" dy="-3.2">-1</tspan><tspan dy="3">)</tspan></text></g>
<g fill="#e00d0d"><circle cx="264.30" cy="280.90" r="1.45"/><circle cx="264.73" cy="283.78" r="1.45"/><circle cx="265.16" cy="282.92" r="1.45"/><circle cx="265.59" cy="279.52" r="1.45"/><circle cx="266.02" cy="283.17" r="1.45"/><circle cx="266.45" cy="282.79" r="1.45"/><circle cx="266.89" cy="282.61" r="1.45"/><circle cx="267.32" cy="278.44" r="1.45"/><circle cx="267.75" cy="281.94" r="1.45"/><circle cx="268.18" cy="282.61" r="1.45"/><circle cx="268.61" cy="278.24" r="1.45"/><circle cx="269.04" cy="281.83" r="1.45"/><circle cx="269.47" cy="277.95" r="1.45"/><circle cx="269.90" cy="278.70" r="1.45"/><circle cx="270.33" cy="277.72" r="1.45"/><circle cx="270.76" cy="276.97" r="1.45"/><circle cx="271.20" cy="278.76" r="1.45"/><circle cx="271.63" cy="277.48" r="1.45"/><circle cx="272.06" cy="281.28" r="1.45"/><circle cx="272.49" cy="277.34" r="1.45"/><circle cx="272.92" cy="278.52" r="1.45"/><circle cx="273.35" cy="277.29" r="1.45"/><circle cx="273.78" cy="280.25" r="1.45"/><circle cx="274.21" cy="276.72" r="1.45"/><circle cx="274.64" cy="275.54" r="1.45"/><circle cx="275.07" cy="279.84" r="1.45"/><circle cx="275.51" cy="278.24" r="1.45"/><circle cx="275.94" cy="276.77" r="1.45"/><circle cx="276.37" cy="275.18" r="1.45"/><circle cx="276.80" cy="278.00" r="1.45"/><circle cx="277.23" cy="278.12" r="1.45"/><circle cx="277.66" cy="277.57" r="1.45"/><circle cx="278.09" cy="275.52" r="1.45"/><circle cx="278.52" cy="274.67" r="1.45"/><circle cx="278.95" cy="276.44" r="1.45"/><circle cx="279.38" cy="276.51" r="1.45"/><circle cx="279.82" cy="276.34" r="1.45"/><circle cx="280.25" cy="276.60" r="1.45"/><circle cx="280.68" cy="276.30" r="1.45"/><circle cx="281.11" cy="278.13" r="1.45"/><circle cx="281.54" cy="276.09" r="1.45"/><circle cx="281.97" cy="273.78" r="1.45"/><circle cx="282.40" cy="276.85" r="1.45"/><circle cx="282.83" cy="275.31" r="1.45"/><circle cx="283.26" cy="278.54" r="1.45"/><circle cx="283.69" cy="276.01" r="1.45"/><circle cx="284.13" cy="275.89" r="1.45"/><circle cx="284.56" cy="276.53" r="1.45"/><circle cx="284.99" cy="277.56" r="1.45"/><circle cx="285.42" cy="277.99" r="1.45"/><circle cx="285.85" cy="277.47" r="1.45"/><circle cx="286.28" cy="276.51" r="1.45"/><circle cx="286.71" cy="280.75" r="1.45"/><circle cx="287.14" cy="281.40" r="1.45"/><circle cx="287.57" cy="278.37" r="1.45"/><circle cx="288.00" cy="277.80" r="1.45"/><circle cx="288.44" cy="280.12" r="1.45"/><circle cx="288.87" cy="280.66" r="1.45"/><circle cx="289.30" cy="279.29" r="1.45"/><circle cx="289.73" cy="281.11" r="1.45"/><circle cx="290.16" cy="278.60" r="1.45"/><circle cx="290.59" cy="276.96" r="1.45"/><circle cx="291.02" cy="273.29" r="1.45"/><circle cx="291.45" cy="272.15" r="1.45"/><circle cx="291.88" cy="270.15" r="1.45"/><circle cx="292.31" cy="265.89" r="1.45"/><circle cx="292.75" cy="262.42" r="1.45"/><circle cx="293.18" cy="262.73" r="1.45"/><circle cx="293.61" cy="258.78" r="1.45"/><circle cx="294.04" cy="257.80" r="1.45"/><circle cx="294.47" cy="254.01" r="1.45"/><circle cx="294.90" cy="253.13" r="1.45"/><circle cx="295.33" cy="252.34" r="1.45"/><circle cx="295.76" cy="250.41" r="1.45"/><circle cx="296.19" cy="249.09" r="1.45"/><circle cx="296.62" cy="245.19" r="1.45"/><circle cx="297.06" cy="243.69" r="1.45"/><circle cx="297.49" cy="242.86" r="1.45"/><circle cx="297.92" cy="240.67" r="1.45"/><circle cx="298.35" cy="239.73" r="1.45"/><circle cx="298.78" cy="237.19" r="1.45"/><circle cx="299.21" cy="239.51" r="1.45"/><circle cx="299.64" cy="236.22" r="1.45"/><circle cx="300.07" cy="238.73" r="1.45"/><circle cx="300.50" cy="238.90" r="1.45"/><circle cx="300.94" cy="240.24" r="1.45"/><circle cx="301.37" cy="239.66" r="1.45"/><circle cx="301.80" cy="240.67" r="1.45"/><circle cx="302.23" cy="242.69" r="1.45"/><circle cx="302.66" cy="243.87" r="1.45"/><circle cx="303.09" cy="243.64" r="1.45"/><circle cx="303.52" cy="243.74" r="1.45"/><circle cx="303.95" cy="246.25" r="1.45"/><circle cx="304.38" cy="245.54" r="1.45"/><circle cx="304.81" cy="245.25" r="1.45"/><circle cx="305.25" cy="247.89" r="1.45"/><circle cx="305.68" cy="249.47" r="1.45"/><circle cx="306.11" cy="250.05" r="1.45"/><circle cx="306.54" cy="248.68" r="1.45"/><circle cx="306.97" cy="249.42" r="1.45"/><circle cx="307.40" cy="248.83" r="1.45"/><circle cx="307.83" cy="249.79" r="1.45"/><circle cx="308.26" cy="252.80" r="1.45"/><circle cx="308.69" cy="253.51" r="1.45"/><circle cx="309.12" cy="253.72" r="1.45"/><circle cx="309.56" cy="254.48" r="1.45"/><circle cx="309.99" cy="252.83" r="1.45"/><circle cx="310.42" cy="252.64" r="1.45"/><circle cx="310.85" cy="252.90" r="1.45"/><circle cx="311.28" cy="255.93" r="1.45"/><circle cx="311.71" cy="253.84" r="1.45"/><circle cx="312.14" cy="256.46" r="1.45"/><circle cx="312.57" cy="256.38" r="1.45"/><circle cx="313.00" cy="255.48" r="1.45"/><circle cx="313.43" cy="258.43" r="1.45"/><circle cx="313.87" cy="258.72" r="1.45"/><circle cx="314.30" cy="256.01" r="1.45"/><circle cx="314.73" cy="258.50" r="1.45"/><circle cx="315.16" cy="258.51" r="1.45"/><circle cx="315.59" cy="257.87" r="1.45"/><circle cx="316.02" cy="257.73" r="1.45"/><circle cx="316.45" cy="260.69" r="1.45"/><circle cx="316.88" cy="259.58" r="1.45"/><circle cx="317.31" cy="259.39" r="1.45"/><circle cx="317.74" cy="259.39" r="1.45"/><circle cx="318.18" cy="260.71" r="1.45"/><circle cx="318.61" cy="259.37" r="1.45"/><circle cx="319.04" cy="258.05" r="1.45"/><circle cx="319.47" cy="260.51" r="1.45"/><circle cx="319.90" cy="260.05" r="1.45"/><circle cx="320.33" cy="261.93" r="1.45"/><circle cx="320.76" cy="261.44" r="1.45"/><circle cx="321.19" cy="259.99" r="1.45"/><circle cx="321.62" cy="262.37" r="1.45"/><circle cx="322.05" cy="259.34" r="1.45"/><circle cx="322.49" cy="259.37" r="1.45"/><circle cx="322.92" cy="262.78" r="1.45"/><circle cx="323.35" cy="259.45" r="1.45"/><circle cx="323.78" cy="261.85" r="1.45"/><circle cx="324.21" cy="260.33" r="1.45"/><circle cx="324.64" cy="260.48" r="1.45"/><circle cx="325.07" cy="262.44" r="1.45"/><circle cx="325.50" cy="260.97" r="1.45"/><circle cx="325.93" cy="261.13" r="1.45"/><circle cx="326.36" cy="260.58" r="1.45"/><circle cx="326.80" cy="262.85" r="1.45"/><circle cx="327.23" cy="260.93" r="1.45"/><circle cx="327.66" cy="260.15" r="1.45"/><circle cx="328.09" cy="261.38" r="1.45"/><circle cx="328.52" cy="262.00" r="1.45"/><circle cx="328.95" cy="263.77" r="1.45"/><circle cx="329.38" cy="262.28" r="1.45"/><circle cx="329.81" cy="262.91" r="1.45"/><circle cx="330.24" cy="261.48" r="1.45"/><circle cx="330.67" cy="261.69" r="1.45"/><circle cx="331.11" cy="262.20" r="1.45"/><circle cx="331.54" cy="263.82" r="1.45"/><circle cx="331.97" cy="261.99" r="1.45"/><circle cx="332.40" cy="262.11" r="1.45"/><circle cx="332.83" cy="264.01" r="1.45"/><circle cx="333.26" cy="261.18" r="1.45"/><circle cx="333.69" cy="262.19" r="1.45"/><circle cx="334.12" cy="264.43" r="1.45"/><circle cx="334.55" cy="261.20" r="1.45"/><circle cx="334.98" cy="264.49" r="1.45"/><circle cx="335.42" cy="263.79" r="1.45"/><circle cx="335.85" cy="262.29" r="1.45"/><circle cx="336.28" cy="262.86" r="1.45"/><circle cx="336.71" cy="263.11" r="1.45"/><circle cx="337.14" cy="262.80" r="1.45"/><circle cx="337.57" cy="263.65" r="1.45"/><circle cx="338.00" cy="264.31" r="1.45"/><circle cx="338.43" cy="264.94" r="1.45"/><circle cx="338.86" cy="265.45" r="1.45"/><circle cx="339.29" cy="262.89" r="1.45"/><circle cx="339.73" cy="262.80" r="1.45"/><circle cx="340.16" cy="263.73" r="1.45"/><circle cx="340.59" cy="263.00" r="1.45"/><circle cx="341.02" cy="264.62" r="1.45"/><circle cx="341.45" cy="265.07" r="1.45"/><circle cx="341.88" cy="264.66" r="1.45"/><circle cx="342.31" cy="262.74" r="1.45"/><circle cx="342.74" cy="266.19" r="1.45"/><circle cx="343.17" cy="264.37" r="1.45"/><circle cx="343.60" cy="265.49" r="1.45"/><circle cx="344.04" cy="263.44" r="1.45"/><circle cx="344.47" cy="265.19" r="1.45"/><circle cx="344.90" cy="265.35" r="1.45"/><circle cx="345.33" cy="265.13" r="1.45"/><circle cx="345.76" cy="264.63" r="1.45"/><circle cx="346.19" cy="263.76" r="1.45"/><circle cx="346.62" cy="265.53" r="1.45"/><circle cx="347.05" cy="263.59" r="1.45"/><circle cx="347.48" cy="266.64" r="1.45"/><circle cx="347.91" cy="266.06" r="1.45"/><circle cx="348.35" cy="266.82" r="1.45"/><circle cx="348.78" cy="266.84" r="1.45"/><circle cx="349.21" cy="264.19" r="1.45"/><circle cx="349.64" cy="264.46" r="1.45"/><circle cx="350.07" cy="266.74" r="1.45"/><circle cx="350.50" cy="266.78" r="1.45"/><circle cx="350.93" cy="265.91" r="1.45"/><circle cx="351.36" cy="264.64" r="1.45"/><circle cx="351.79" cy="264.40" r="1.45"/><circle cx="352.22" cy="264.72" r="1.45"/><circle cx="352.66" cy="265.41" r="1.45"/><circle cx="353.09" cy="267.28" r="1.45"/><circle cx="353.52" cy="266.30" r="1.45"/><circle cx="353.95" cy="267.18" r="1.45"/><circle cx="354.38" cy="265.86" r="1.45"/><circle cx="354.81" cy="265.74" r="1.45"/><circle cx="355.24" cy="267.28" r="1.45"/><circle cx="355.67" cy="267.13" r="1.45"/><circle cx="356.10" cy="265.01" r="1.45"/><circle cx="356.53" cy="268.11" r="1.45"/><circle cx="356.97" cy="265.01" r="1.45"/><circle cx="357.40" cy="264.70" r="1.45"/><circle cx="357.83" cy="264.51" r="1.45"/><circle cx="358.26" cy="266.86" r="1.45"/><circle cx="358.69" cy="266.22" r="1.45"/><circle cx="359.12" cy="266.15" r="1.45"/><circle cx="359.55" cy="266.00" r="1.45"/><circle cx="359.98" cy="264.66" r="1.45"/><circle cx="360.41" cy="265.90" r="1.45"/><circle cx="360.84" cy="267.53" r="1.45"/><circle cx="361.28" cy="265.31" r="1.45"/><circle cx="361.71" cy="266.91" r="1.45"/><circle cx="362.14" cy="266.50" r="1.45"/><circle cx="362.57" cy="266.07" r="1.45"/><circle cx="363.00" cy="269.09" r="1.45"/><circle cx="363.43" cy="266.05" r="1.45"/><circle cx="363.86" cy="266.57" r="1.45"/><circle cx="364.29" cy="267.35" r="1.45"/><circle cx="364.72" cy="267.32" r="1.45"/><circle cx="365.15" cy="267.68" r="1.45"/><circle cx="365.59" cy="268.86" r="1.45"/><circle cx="366.02" cy="267.60" r="1.45"/><circle cx="366.45" cy="269.70" r="1.45"/><circle cx="366.88" cy="267.92" r="1.45"/><circle cx="367.31" cy="267.44" r="1.45"/><circle cx="367.74" cy="268.37" r="1.45"/><circle cx="368.17" cy="267.99" r="1.45"/><circle cx="368.60" cy="266.51" r="1.45"/><circle cx="369.03" cy="266.91" r="1.45"/><circle cx="369.46" cy="270.13" r="1.45"/><circle cx="369.90" cy="267.60" r="1.45"/><circle cx="370.33" cy="268.44" r="1.45"/><circle cx="370.76" cy="270.93" r="1.45"/><circle cx="371.19" cy="269.84" r="1.45"/><circle cx="371.62" cy="270.53" r="1.45"/><circle cx="372.05" cy="271.36" r="1.45"/><circle cx="372.48" cy="269.69" r="1.45"/><circle cx="372.91" cy="268.32" r="1.45"/><circle cx="373.34" cy="271.01" r="1.45"/><circle cx="373.77" cy="269.03" r="1.45"/><circle cx="374.21" cy="270.00" r="1.45"/><circle cx="374.64" cy="272.54" r="1.45"/><circle cx="375.07" cy="269.87" r="1.45"/><circle cx="375.50" cy="271.22" r="1.45"/><circle cx="375.93" cy="270.20" r="1.45"/><circle cx="376.36" cy="271.39" r="1.45"/><circle cx="376.79" cy="271.64" r="1.45"/><circle cx="377.22" cy="273.61" r="1.45"/><circle cx="377.65" cy="272.11" r="1.45"/><circle cx="378.08" cy="272.01" r="1.45"/><circle cx="378.51" cy="272.77" r="1.45"/><circle cx="378.95" cy="275.05" r="1.45"/><circle cx="379.38" cy="274.35" r="1.45"/><circle cx="379.81" cy="276.04" r="1.45"/><circle cx="380.24" cy="278.09" r="1.45"/><circle cx="380.67" cy="278.77" r="1.45"/><circle cx="381.10" cy="278.95" r="1.45"/><circle cx="381.53" cy="278.72" r="1.45"/><circle cx="381.96" cy="279.12" r="1.45"/><circle cx="382.39" cy="277.96" r="1.45"/><circle cx="382.83" cy="277.31" r="1.45"/><circle cx="383.26" cy="278.12" r="1.45"/><circle cx="383.69" cy="278.71" r="1.45"/><circle cx="384.12" cy="277.90" r="1.45"/><circle cx="384.55" cy="279.41" r="1.45"/><circle cx="384.98" cy="278.86" r="1.45"/><circle cx="385.41" cy="277.76" r="1.45"/><circle cx="385.84" cy="279.31" r="1.45"/><circle cx="386.27" cy="280.31" r="1.45"/><circle cx="386.70" cy="277.50" r="1.45"/><circle cx="387.13" cy="278.36" r="1.45"/><circle cx="387.57" cy="279.91" r="1.45"/><circle cx="388.00" cy="280.00" r="1.45"/><circle cx="388.43" cy="279.45" r="1.45"/><circle cx="388.86" cy="279.28" r="1.45"/><circle cx="389.29" cy="280.89" r="1.45"/><circle cx="389.72" cy="281.87" r="1.45"/><circle cx="390.15" cy="281.12" r="1.45"/><circle cx="390.58" cy="278.87" r="1.45"/><circle cx="391.01" cy="281.55" r="1.45"/><circle cx="391.45" cy="280.35" r="1.45"/><circle cx="391.88" cy="281.50" r="1.45"/><circle cx="392.31" cy="281.53" r="1.45"/><circle cx="392.74" cy="281.77" r="1.45"/><circle cx="393.17" cy="280.91" r="1.45"/><circle cx="393.60" cy="281.96" r="1.45"/></g>
<g fill="#10109a"><circle cx="264.30" cy="286.95" r="1.45"/><circle cx="264.80" cy="286.81" r="1.45"/><circle cx="265.29" cy="286.71" r="1.45"/><circle cx="265.79" cy="286.18" r="1.45"/><circle cx="266.29" cy="286.89" r="1.45"/><circle cx="266.79" cy="286.95" r="1.45"/><circle cx="267.28" cy="286.25" r="1.45"/><circle cx="267.78" cy="286.31" r="1.45"/><circle cx="268.28" cy="285.82" r="1.45"/><circle cx="268.78" cy="286.91" r="1.45"/><circle cx="269.27" cy="286.32" r="1.45"/><circle cx="269.77" cy="286.33" r="1.45"/><circle cx="270.27" cy="286.95" r="1.45"/><circle cx="270.76" cy="285.38" r="1.45"/><circle cx="271.26" cy="286.62" r="1.45"/><circle cx="271.76" cy="286.83" r="1.45"/><circle cx="272.26" cy="286.20" r="1.45"/><circle cx="272.75" cy="286.71" r="1.45"/><circle cx="273.25" cy="285.95" r="1.45"/><circle cx="273.75" cy="286.41" r="1.45"/><circle cx="274.25" cy="286.77" r="1.45"/><circle cx="274.74" cy="286.89" r="1.45"/><circle cx="275.24" cy="285.77" r="1.45"/><circle cx="275.74" cy="286.52" r="1.45"/><circle cx="276.24" cy="285.66" r="1.45"/><circle cx="276.73" cy="286.19" r="1.45"/><circle cx="277.23" cy="285.41" r="1.45"/><circle cx="277.73" cy="286.46" r="1.45"/><circle cx="278.22" cy="286.54" r="1.45"/><circle cx="278.72" cy="286.51" r="1.45"/><circle cx="279.22" cy="285.60" r="1.45"/><circle cx="279.72" cy="285.90" r="1.45"/><circle cx="280.21" cy="286.37" r="1.45"/><circle cx="280.71" cy="286.78" r="1.45"/><circle cx="281.21" cy="285.80" r="1.45"/><circle cx="281.71" cy="285.32" r="1.45"/><circle cx="282.20" cy="285.94" r="1.45"/><circle cx="282.70" cy="286.91" r="1.45"/><circle cx="283.20" cy="286.86" r="1.45"/><circle cx="283.69" cy="286.76" r="1.45"/><circle cx="284.19" cy="286.62" r="1.45"/><circle cx="284.69" cy="286.83" r="1.45"/><circle cx="285.19" cy="286.79" r="1.45"/><circle cx="285.68" cy="285.79" r="1.45"/><circle cx="286.18" cy="285.37" r="1.45"/><circle cx="286.68" cy="286.53" r="1.45"/><circle cx="287.18" cy="285.23" r="1.45"/><circle cx="287.67" cy="286.05" r="1.45"/><circle cx="288.17" cy="285.49" r="1.45"/><circle cx="288.67" cy="285.29" r="1.45"/><circle cx="289.17" cy="285.25" r="1.45"/><circle cx="289.66" cy="281.18" r="1.45"/><circle cx="290.16" cy="272.92" r="1.45"/><circle cx="290.66" cy="266.50" r="1.45"/><circle cx="291.15" cy="260.43" r="1.45"/><circle cx="291.65" cy="256.85" r="1.45"/><circle cx="292.15" cy="252.12" r="1.45"/><circle cx="292.65" cy="247.53" r="1.45"/><circle cx="293.14" cy="245.91" r="1.45"/><circle cx="293.64" cy="243.54" r="1.45"/><circle cx="294.14" cy="242.71" r="1.45"/><circle cx="294.64" cy="241.65" r="1.45"/><circle cx="295.13" cy="240.98" r="1.45"/><circle cx="295.63" cy="242.13" r="1.45"/><circle cx="296.13" cy="241.18" r="1.45"/><circle cx="296.62" cy="241.19" r="1.45"/><circle cx="297.12" cy="241.03" r="1.45"/><circle cx="297.62" cy="241.51" r="1.45"/><circle cx="298.12" cy="240.91" r="1.45"/><circle cx="298.61" cy="241.87" r="1.45"/><circle cx="299.11" cy="241.81" r="1.45"/><circle cx="299.61" cy="242.16" r="1.45"/><circle cx="300.11" cy="241.28" r="1.45"/><circle cx="300.60" cy="241.83" r="1.45"/><circle cx="301.10" cy="242.24" r="1.45"/><circle cx="301.60" cy="242.46" r="1.45"/><circle cx="302.10" cy="241.61" r="1.45"/><circle cx="302.59" cy="241.87" r="1.45"/><circle cx="303.09" cy="241.78" r="1.45"/><circle cx="303.59" cy="242.41" r="1.45"/><circle cx="304.08" cy="242.33" r="1.45"/><circle cx="304.58" cy="242.99" r="1.45"/><circle cx="305.08" cy="242.17" r="1.45"/><circle cx="305.58" cy="243.44" r="1.45"/><circle cx="306.07" cy="242.82" r="1.45"/><circle cx="306.57" cy="242.46" r="1.45"/><circle cx="307.07" cy="242.72" r="1.45"/><circle cx="307.57" cy="243.82" r="1.45"/><circle cx="308.06" cy="243.73" r="1.45"/><circle cx="308.56" cy="242.86" r="1.45"/><circle cx="309.06" cy="243.33" r="1.45"/><circle cx="309.56" cy="243.08" r="1.45"/><circle cx="310.05" cy="243.22" r="1.45"/><circle cx="310.55" cy="244.07" r="1.45"/><circle cx="311.05" cy="243.46" r="1.45"/><circle cx="311.54" cy="243.86" r="1.45"/><circle cx="312.04" cy="244.66" r="1.45"/><circle cx="312.54" cy="244.72" r="1.45"/><circle cx="313.04" cy="245.34" r="1.45"/><circle cx="313.53" cy="244.91" r="1.45"/><circle cx="314.03" cy="244.10" r="1.45"/><circle cx="314.53" cy="245.63" r="1.45"/><circle cx="315.03" cy="244.97" r="1.45"/><circle cx="315.52" cy="245.85" r="1.45"/><circle cx="316.02" cy="246.01" r="1.45"/><circle cx="316.52" cy="245.18" r="1.45"/><circle cx="317.01" cy="245.98" r="1.45"/><circle cx="317.51" cy="246.41" r="1.45"/><circle cx="318.01" cy="246.34" r="1.45"/><circle cx="318.51" cy="245.63" r="1.45"/><circle cx="319.00" cy="245.84" r="1.45"/><circle cx="319.50" cy="246.90" r="1.45"/><circle cx="320.00" cy="246.63" r="1.45"/><circle cx="320.50" cy="245.50" r="1.45"/><circle cx="320.99" cy="246.84" r="1.45"/><circle cx="321.49" cy="246.36" r="1.45"/><circle cx="321.99" cy="246.68" r="1.45"/><circle cx="322.49" cy="246.16" r="1.45"/><circle cx="322.98" cy="246.53" r="1.45"/><circle cx="323.48" cy="246.29" r="1.45"/><circle cx="323.98" cy="246.78" r="1.45"/><circle cx="324.47" cy="247.42" r="1.45"/><circle cx="324.97" cy="247.50" r="1.45"/><circle cx="325.47" cy="247.72" r="1.45"/><circle cx="325.97" cy="246.54" r="1.45"/><circle cx="326.46" cy="247.78" r="1.45"/><circle cx="326.96" cy="247.98" r="1.45"/><circle cx="327.46" cy="246.46" r="1.45"/><circle cx="327.96" cy="247.79" r="1.45"/><circle cx="328.45" cy="246.68" r="1.45"/><circle cx="328.95" cy="248.06" r="1.45"/><circle cx="329.45" cy="247.47" r="1.45"/><circle cx="329.94" cy="247.92" r="1.45"/><circle cx="330.44" cy="246.95" r="1.45"/><circle cx="330.94" cy="247.34" r="1.45"/><circle cx="331.44" cy="247.33" r="1.45"/><circle cx="331.93" cy="247.17" r="1.45"/><circle cx="332.43" cy="247.01" r="1.45"/><circle cx="332.93" cy="247.92" r="1.45"/><circle cx="333.43" cy="247.52" r="1.45"/><circle cx="333.92" cy="247.81" r="1.45"/><circle cx="334.42" cy="248.40" r="1.45"/><circle cx="334.92" cy="247.22" r="1.45"/><circle cx="335.42" cy="247.64" r="1.45"/><circle cx="335.91" cy="247.30" r="1.45"/><circle cx="336.41" cy="248.33" r="1.45"/><circle cx="336.91" cy="247.80" r="1.45"/><circle cx="337.40" cy="247.95" r="1.45"/><circle cx="337.90" cy="247.53" r="1.45"/><circle cx="338.40" cy="248.63" r="1.45"/><circle cx="338.90" cy="248.20" r="1.45"/><circle cx="339.39" cy="247.99" r="1.45"/><circle cx="339.89" cy="248.70" r="1.45"/><circle cx="340.39" cy="247.91" r="1.45"/><circle cx="340.89" cy="247.62" r="1.45"/><circle cx="341.38" cy="248.16" r="1.45"/><circle cx="341.88" cy="247.80" r="1.45"/><circle cx="342.38" cy="247.89" r="1.45"/><circle cx="342.87" cy="248.56" r="1.45"/><circle cx="343.37" cy="248.35" r="1.45"/><circle cx="343.87" cy="247.29" r="1.45"/><circle cx="344.37" cy="248.40" r="1.45"/><circle cx="344.86" cy="248.26" r="1.45"/><circle cx="345.36" cy="248.85" r="1.45"/><circle cx="345.86" cy="248.64" r="1.45"/><circle cx="346.36" cy="248.74" r="1.45"/><circle cx="346.85" cy="247.48" r="1.45"/><circle cx="347.35" cy="247.83" r="1.45"/><circle cx="347.85" cy="247.60" r="1.45"/><circle cx="348.35" cy="247.42" r="1.45"/><circle cx="348.84" cy="248.06" r="1.45"/><circle cx="349.34" cy="247.54" r="1.45"/><circle cx="349.84" cy="248.22" r="1.45"/><circle cx="350.33" cy="248.43" r="1.45"/><circle cx="350.83" cy="247.56" r="1.45"/><circle cx="351.33" cy="247.65" r="1.45"/><circle cx="351.83" cy="247.59" r="1.45"/><circle cx="352.32" cy="248.38" r="1.45"/><circle cx="352.82" cy="247.92" r="1.45"/><circle cx="353.32" cy="248.55" r="1.45"/><circle cx="353.82" cy="247.58" r="1.45"/><circle cx="354.31" cy="247.73" r="1.45"/><circle cx="354.81" cy="248.80" r="1.45"/><circle cx="355.31" cy="247.75" r="1.45"/><circle cx="355.80" cy="249.02" r="1.45"/><circle cx="356.30" cy="249.19" r="1.45"/><circle cx="356.80" cy="248.17" r="1.45"/><circle cx="357.30" cy="248.91" r="1.45"/><circle cx="357.79" cy="248.56" r="1.45"/><circle cx="358.29" cy="248.39" r="1.45"/><circle cx="358.79" cy="249.42" r="1.45"/><circle cx="359.29" cy="248.28" r="1.45"/><circle cx="359.78" cy="249.09" r="1.45"/><circle cx="360.28" cy="248.87" r="1.45"/><circle cx="360.78" cy="249.05" r="1.45"/><circle cx="361.28" cy="248.43" r="1.45"/><circle cx="361.77" cy="248.46" r="1.45"/><circle cx="362.27" cy="249.27" r="1.45"/><circle cx="362.77" cy="249.62" r="1.45"/><circle cx="363.26" cy="249.34" r="1.45"/><circle cx="363.76" cy="249.20" r="1.45"/><circle cx="364.26" cy="249.80" r="1.45"/><circle cx="364.76" cy="249.73" r="1.45"/><circle cx="365.25" cy="248.77" r="1.45"/><circle cx="365.75" cy="248.93" r="1.45"/><circle cx="366.25" cy="248.53" r="1.45"/><circle cx="366.75" cy="248.58" r="1.45"/><circle cx="367.24" cy="248.82" r="1.45"/><circle cx="367.74" cy="249.73" r="1.45"/><circle cx="368.24" cy="250.15" r="1.45"/><circle cx="368.73" cy="249.97" r="1.45"/><circle cx="369.23" cy="249.79" r="1.45"/><circle cx="369.73" cy="249.76" r="1.45"/><circle cx="370.23" cy="249.81" r="1.45"/><circle cx="370.72" cy="250.19" r="1.45"/><circle cx="371.22" cy="249.45" r="1.45"/><circle cx="371.72" cy="250.60" r="1.45"/><circle cx="372.22" cy="250.71" r="1.45"/><circle cx="372.71" cy="250.71" r="1.45"/><circle cx="373.21" cy="251.86" r="1.45"/><circle cx="373.71" cy="253.89" r="1.45"/><circle cx="374.21" cy="255.73" r="1.45"/><circle cx="374.70" cy="257.55" r="1.45"/><circle cx="375.20" cy="263.17" r="1.45"/><circle cx="375.70" cy="269.74" r="1.45"/><circle cx="376.19" cy="276.94" r="1.45"/><circle cx="376.69" cy="284.83" r="1.45"/><circle cx="377.19" cy="292.68" r="1.45"/><circle cx="377.69" cy="296.59" r="1.45"/><circle cx="378.18" cy="298.27" r="1.45"/><circle cx="378.68" cy="298.04" r="1.45"/><circle cx="379.18" cy="298.50" r="1.45"/><circle cx="379.68" cy="296.85" r="1.45"/><circle cx="380.17" cy="296.00" r="1.45"/><circle cx="380.67" cy="294.61" r="1.45"/><circle cx="381.17" cy="295.33" r="1.45"/><circle cx="381.66" cy="294.23" r="1.45"/><circle cx="382.16" cy="293.69" r="1.45"/><circle cx="382.66" cy="292.24" r="1.45"/><circle cx="383.16" cy="291.73" r="1.45"/><circle cx="383.65" cy="291.64" r="1.45"/><circle cx="384.15" cy="290.30" r="1.45"/><circle cx="384.65" cy="290.58" r="1.45"/><circle cx="385.15" cy="289.80" r="1.45"/><circle cx="385.64" cy="289.53" r="1.45"/><circle cx="386.14" cy="288.27" r="1.45"/><circle cx="386.64" cy="288.61" r="1.45"/><circle cx="387.13" cy="288.61" r="1.45"/><circle cx="387.63" cy="288.74" r="1.45"/><circle cx="388.13" cy="287.91" r="1.45"/><circle cx="388.63" cy="287.43" r="1.45"/><circle cx="389.12" cy="287.23" r="1.45"/><circle cx="389.62" cy="286.75" r="1.45"/><circle cx="390.12" cy="286.86" r="1.45"/><circle cx="390.62" cy="287.75" r="1.45"/><circle cx="391.11" cy="287.89" r="1.45"/><circle cx="391.61" cy="286.83" r="1.45"/><circle cx="392.11" cy="286.75" r="1.45"/><circle cx="392.61" cy="287.18" r="1.45"/><circle cx="393.10" cy="286.60" r="1.45"/><circle cx="393.60" cy="287.00" r="1.45"/></g>
<g fill="#000"><circle cx="264.30" cy="291.33" r="1.45"/><circle cx="264.80" cy="292.03" r="1.45"/><circle cx="265.29" cy="292.88" r="1.45"/><circle cx="265.79" cy="291.14" r="1.45"/><circle cx="266.29" cy="290.64" r="1.45"/><circle cx="266.79" cy="290.95" r="1.45"/><circle cx="267.28" cy="292.73" r="1.45"/><circle cx="267.78" cy="292.38" r="1.45"/><circle cx="268.28" cy="291.78" r="1.45"/><circle cx="268.78" cy="292.41" r="1.45"/><circle cx="269.27" cy="293.35" r="1.45"/><circle cx="269.77" cy="294.22" r="1.45"/><circle cx="270.27" cy="294.10" r="1.45"/><circle cx="270.76" cy="295.49" r="1.45"/><circle cx="271.26" cy="295.67" r="1.45"/><circle cx="271.76" cy="294.22" r="1.45"/><circle cx="272.26" cy="293.39" r="1.45"/><circle cx="272.75" cy="295.07" r="1.45"/><circle cx="273.25" cy="295.71" r="1.45"/><circle cx="273.75" cy="296.06" r="1.45"/><circle cx="274.25" cy="295.86" r="1.45"/><circle cx="274.74" cy="294.83" r="1.45"/><circle cx="275.24" cy="296.10" r="1.45"/><circle cx="275.74" cy="294.50" r="1.45"/><circle cx="276.24" cy="297.24" r="1.45"/><circle cx="276.73" cy="296.75" r="1.45"/><circle cx="277.23" cy="296.08" r="1.45"/><circle cx="277.73" cy="296.39" r="1.45"/><circle cx="278.22" cy="294.80" r="1.45"/><circle cx="278.72" cy="294.66" r="1.45"/><circle cx="279.22" cy="294.04" r="1.45"/><circle cx="279.72" cy="294.77" r="1.45"/><circle cx="280.21" cy="296.35" r="1.45"/><circle cx="280.71" cy="294.15" r="1.45"/><circle cx="281.21" cy="293.83" r="1.45"/><circle cx="281.71" cy="293.63" r="1.45"/><circle cx="282.20" cy="293.93" r="1.45"/><circle cx="282.70" cy="292.14" r="1.45"/><circle cx="283.20" cy="291.14" r="1.45"/><circle cx="283.69" cy="293.56" r="1.45"/><circle cx="284.19" cy="291.46" r="1.45"/><circle cx="284.69" cy="292.31" r="1.45"/><circle cx="285.19" cy="291.73" r="1.45"/><circle cx="285.68" cy="290.39" r="1.45"/><circle cx="286.18" cy="290.09" r="1.45"/><circle cx="286.68" cy="291.04" r="1.45"/><circle cx="287.18" cy="292.38" r="1.45"/><circle cx="287.67" cy="289.74" r="1.45"/><circle cx="288.17" cy="291.87" r="1.45"/><circle cx="288.67" cy="290.74" r="1.45"/><circle cx="289.17" cy="288.51" r="1.45"/><circle cx="289.66" cy="289.18" r="1.45"/><circle cx="290.16" cy="288.14" r="1.45"/><circle cx="290.66" cy="284.67" r="1.45"/><circle cx="291.15" cy="283.60" r="1.45"/><circle cx="291.65" cy="284.77" r="1.45"/><circle cx="292.15" cy="283.56" r="1.45"/><circle cx="292.65" cy="283.04" r="1.45"/><circle cx="293.14" cy="282.87" r="1.45"/><circle cx="293.64" cy="282.18" r="1.45"/><circle cx="294.14" cy="280.05" r="1.45"/><circle cx="294.64" cy="283.90" r="1.45"/><circle cx="295.13" cy="284.53" r="1.45"/><circle cx="295.63" cy="285.74" r="1.45"/><circle cx="296.13" cy="286.97" r="1.45"/><circle cx="296.62" cy="286.17" r="1.45"/><circle cx="297.12" cy="286.13" r="1.45"/><circle cx="297.62" cy="286.45" r="1.45"/><circle cx="298.12" cy="287.73" r="1.45"/><circle cx="298.61" cy="287.60" r="1.45"/><circle cx="299.11" cy="290.67" r="1.45"/><circle cx="299.61" cy="289.98" r="1.45"/><circle cx="300.11" cy="287.74" r="1.45"/><circle cx="300.60" cy="289.99" r="1.45"/><circle cx="301.10" cy="287.99" r="1.45"/><circle cx="301.60" cy="285.74" r="1.45"/><circle cx="302.10" cy="285.15" r="1.45"/><circle cx="302.59" cy="283.37" r="1.45"/><circle cx="303.09" cy="284.29" r="1.45"/><circle cx="303.59" cy="282.99" r="1.45"/><circle cx="304.08" cy="279.99" r="1.45"/><circle cx="304.58" cy="282.15" r="1.45"/><circle cx="305.08" cy="279.12" r="1.45"/><circle cx="305.58" cy="281.08" r="1.45"/><circle cx="306.07" cy="277.93" r="1.45"/><circle cx="306.57" cy="278.56" r="1.45"/><circle cx="307.07" cy="278.23" r="1.45"/><circle cx="307.57" cy="279.55" r="1.45"/><circle cx="308.06" cy="279.53" r="1.45"/><circle cx="308.56" cy="276.90" r="1.45"/><circle cx="309.06" cy="278.60" r="1.45"/><circle cx="309.56" cy="278.32" r="1.45"/><circle cx="310.05" cy="275.98" r="1.45"/><circle cx="310.55" cy="275.57" r="1.45"/><circle cx="311.05" cy="278.06" r="1.45"/><circle cx="311.54" cy="274.74" r="1.45"/><circle cx="312.04" cy="275.83" r="1.45"/><circle cx="312.54" cy="275.96" r="1.45"/><circle cx="313.04" cy="276.39" r="1.45"/><circle cx="313.53" cy="274.84" r="1.45"/><circle cx="314.03" cy="272.19" r="1.45"/><circle cx="314.53" cy="273.85" r="1.45"/><circle cx="315.03" cy="273.69" r="1.45"/><circle cx="315.52" cy="273.05" r="1.45"/><circle cx="316.02" cy="272.64" r="1.45"/><circle cx="316.52" cy="271.58" r="1.45"/><circle cx="317.01" cy="269.61" r="1.45"/><circle cx="317.51" cy="272.51" r="1.45"/><circle cx="318.01" cy="272.37" r="1.45"/><circle cx="318.51" cy="270.19" r="1.45"/><circle cx="319.00" cy="270.31" r="1.45"/><circle cx="319.50" cy="270.60" r="1.45"/><circle cx="320.00" cy="273.13" r="1.45"/><circle cx="320.50" cy="272.77" r="1.45"/><circle cx="320.99" cy="270.77" r="1.45"/><circle cx="321.49" cy="272.31" r="1.45"/><circle cx="321.99" cy="271.56" r="1.45"/><circle cx="322.49" cy="272.84" r="1.45"/><circle cx="322.98" cy="273.78" r="1.45"/><circle cx="323.48" cy="272.67" r="1.45"/><circle cx="323.98" cy="271.30" r="1.45"/><circle cx="324.47" cy="271.14" r="1.45"/><circle cx="324.97" cy="271.81" r="1.45"/><circle cx="325.47" cy="272.11" r="1.45"/><circle cx="325.97" cy="271.82" r="1.45"/><circle cx="326.46" cy="272.08" r="1.45"/><circle cx="326.96" cy="271.72" r="1.45"/><circle cx="327.46" cy="270.67" r="1.45"/><circle cx="327.96" cy="272.72" r="1.45"/><circle cx="328.45" cy="271.35" r="1.45"/><circle cx="328.95" cy="270.16" r="1.45"/><circle cx="329.45" cy="270.37" r="1.45"/><circle cx="329.94" cy="272.54" r="1.45"/><circle cx="330.44" cy="269.86" r="1.45"/><circle cx="330.94" cy="270.20" r="1.45"/><circle cx="331.44" cy="272.38" r="1.45"/><circle cx="331.93" cy="271.98" r="1.45"/><circle cx="332.43" cy="272.13" r="1.45"/><circle cx="332.93" cy="272.56" r="1.45"/><circle cx="333.43" cy="269.41" r="1.45"/><circle cx="333.92" cy="271.24" r="1.45"/><circle cx="334.42" cy="269.63" r="1.45"/><circle cx="334.92" cy="272.10" r="1.45"/><circle cx="335.42" cy="272.37" r="1.45"/><circle cx="335.91" cy="269.45" r="1.45"/><circle cx="336.41" cy="269.63" r="1.45"/><circle cx="336.91" cy="268.89" r="1.45"/><circle cx="337.40" cy="269.82" r="1.45"/><circle cx="337.90" cy="270.27" r="1.45"/><circle cx="338.40" cy="269.38" r="1.45"/><circle cx="338.90" cy="271.52" r="1.45"/><circle cx="339.39" cy="269.94" r="1.45"/><circle cx="339.89" cy="270.17" r="1.45"/><circle cx="340.39" cy="271.05" r="1.45"/><circle cx="340.89" cy="269.44" r="1.45"/><circle cx="341.38" cy="270.27" r="1.45"/><circle cx="341.88" cy="269.56" r="1.45"/><circle cx="342.38" cy="269.91" r="1.45"/><circle cx="342.87" cy="270.00" r="1.45"/><circle cx="343.37" cy="269.77" r="1.45"/><circle cx="343.87" cy="268.87" r="1.45"/><circle cx="344.37" cy="267.52" r="1.45"/><circle cx="344.86" cy="267.59" r="1.45"/><circle cx="345.36" cy="267.76" r="1.45"/><circle cx="345.86" cy="267.78" r="1.45"/><circle cx="346.36" cy="269.54" r="1.45"/><circle cx="346.85" cy="267.18" r="1.45"/><circle cx="347.35" cy="269.49" r="1.45"/><circle cx="347.85" cy="269.93" r="1.45"/><circle cx="348.35" cy="268.64" r="1.45"/><circle cx="348.84" cy="267.84" r="1.45"/><circle cx="349.34" cy="269.12" r="1.45"/><circle cx="349.84" cy="268.10" r="1.45"/><circle cx="350.33" cy="269.31" r="1.45"/><circle cx="350.83" cy="267.03" r="1.45"/><circle cx="351.33" cy="268.75" r="1.45"/><circle cx="351.83" cy="268.68" r="1.45"/><circle cx="352.32" cy="268.51" r="1.45"/><circle cx="352.82" cy="267.38" r="1.45"/><circle cx="353.32" cy="267.02" r="1.45"/><circle cx="353.82" cy="268.56" r="1.45"/><circle cx="354.31" cy="268.87" r="1.45"/><circle cx="354.81" cy="268.30" r="1.45"/><circle cx="355.31" cy="270.15" r="1.45"/><circle cx="355.80" cy="268.98" r="1.45"/><circle cx="356.30" cy="267.60" r="1.45"/><circle cx="356.80" cy="267.85" r="1.45"/><circle cx="357.30" cy="270.27" r="1.45"/><circle cx="357.79" cy="267.64" r="1.45"/><circle cx="358.29" cy="269.24" r="1.45"/><circle cx="358.79" cy="267.27" r="1.45"/><circle cx="359.29" cy="269.34" r="1.45"/><circle cx="359.78" cy="269.87" r="1.45"/><circle cx="360.28" cy="268.79" r="1.45"/><circle cx="360.78" cy="267.69" r="1.45"/><circle cx="361.28" cy="269.23" r="1.45"/><circle cx="361.77" cy="267.80" r="1.45"/><circle cx="362.27" cy="268.34" r="1.45"/><circle cx="362.77" cy="269.52" r="1.45"/><circle cx="363.26" cy="269.75" r="1.45"/><circle cx="363.76" cy="269.08" r="1.45"/><circle cx="364.26" cy="269.45" r="1.45"/><circle cx="364.76" cy="269.56" r="1.45"/><circle cx="365.25" cy="268.64" r="1.45"/><circle cx="365.75" cy="267.91" r="1.45"/><circle cx="366.25" cy="268.89" r="1.45"/><circle cx="366.75" cy="270.36" r="1.45"/><circle cx="367.24" cy="270.13" r="1.45"/><circle cx="367.74" cy="269.65" r="1.45"/><circle cx="368.24" cy="268.88" r="1.45"/><circle cx="368.73" cy="270.50" r="1.45"/><circle cx="369.23" cy="270.75" r="1.45"/><circle cx="369.73" cy="270.03" r="1.45"/><circle cx="370.23" cy="270.25" r="1.45"/><circle cx="370.72" cy="271.21" r="1.45"/><circle cx="371.22" cy="269.65" r="1.45"/><circle cx="371.72" cy="268.54" r="1.45"/><circle cx="372.22" cy="270.03" r="1.45"/><circle cx="372.71" cy="269.74" r="1.45"/><circle cx="373.21" cy="270.14" r="1.45"/><circle cx="373.71" cy="271.22" r="1.45"/><circle cx="374.21" cy="272.57" r="1.45"/><circle cx="374.70" cy="276.33" r="1.45"/><circle cx="375.20" cy="278.60" r="1.45"/><circle cx="375.70" cy="284.30" r="1.45"/><circle cx="376.19" cy="286.03" r="1.45"/><circle cx="376.69" cy="292.40" r="1.45"/><circle cx="377.19" cy="297.47" r="1.45"/><circle cx="377.69" cy="300.65" r="1.45"/><circle cx="378.18" cy="306.29" r="1.45"/><circle cx="378.68" cy="309.58" r="1.45"/><circle cx="379.18" cy="309.15" r="1.45"/><circle cx="379.68" cy="309.73" r="1.45"/><circle cx="380.17" cy="309.78" r="1.45"/><circle cx="380.67" cy="307.73" r="1.45"/><circle cx="381.17" cy="304.76" r="1.45"/><circle cx="381.66" cy="304.31" r="1.45"/><circle cx="382.16" cy="299.99" r="1.45"/><circle cx="382.66" cy="300.74" r="1.45"/><circle cx="383.16" cy="299.30" r="1.45"/><circle cx="383.65" cy="298.12" r="1.45"/><circle cx="384.15" cy="297.12" r="1.45"/><circle cx="384.65" cy="296.96" r="1.45"/><circle cx="385.15" cy="296.01" r="1.45"/><circle cx="385.64" cy="295.70" r="1.45"/><circle cx="386.14" cy="296.29" r="1.45"/><circle cx="386.64" cy="297.28" r="1.45"/><circle cx="387.13" cy="294.19" r="1.45"/><circle cx="387.63" cy="294.92" r="1.45"/><circle cx="388.13" cy="296.71" r="1.45"/><circle cx="388.63" cy="295.30" r="1.45"/><circle cx="389.12" cy="294.06" r="1.45"/><circle cx="389.62" cy="293.08" r="1.45"/><circle cx="390.12" cy="295.98" r="1.45"/><circle cx="390.62" cy="296.00" r="1.45"/><circle cx="391.11" cy="294.27" r="1.45"/><circle cx="391.61" cy="294.31" r="1.45"/><circle cx="392.11" cy="292.57" r="1.45"/><circle cx="392.61" cy="292.63" r="1.45"/><circle cx="393.10" cy="294.11" r="1.45"/><circle cx="393.60" cy="293.65" r="1.45"/></g>
<circle cx="301" cy="205.7" r="1.4" fill="#10109a"/>
<circle cx="301" cy="220.3" r="1.4" fill="#e00d0d"/>
<circle cx="325.8" cy="305" r="1.4" fill="#000"/>
<text x="315.6" y="209.3" font-size="8.6" fill="#111" letter-spacing="0.95">O<tspan font-size="5.9" dy="2">2</tspan><tspan dy="-2"> Evolution</tspan></text>
<text x="315.6" y="224.2" font-size="8.6" fill="#111" letter-spacing="0.95">O<tspan font-size="5.9" dy="2">2</tspan><tspan dy="-2"> Uptake</tspan></text>
<text x="340.9" y="308.9" font-size="8.6" fill="#111" letter-spacing="0.95">Net O<tspan font-size="5.9" dy="2">2</tspan></text>

<defs>
 <radialGradient id="shell" cx="0.5" cy="0.42" r="0.56">
  <stop offset="0.84" stop-color="#d2d3d7"/><stop offset="0.93" stop-color="#c2c4c8"/><stop offset="1" stop-color="#aaacb1"/>
 </radialGradient>
 <radialGradient id="chl" cx="0.5" cy="0.5" r="0.5">
  <stop offset="0.5" stop-color="#d5e6b6"/><stop offset="0.85" stop-color="#cce0a8"/><stop offset="1" stop-color="#c4db9c"/>
 </radialGradient>
 <radialGradient id="cyt" cx="0.38" cy="0.48" r="0.62">
  <stop offset="0.3" stop-color="#ebecf0"/><stop offset="0.78" stop-color="#e0e2e6"/><stop offset="1" stop-color="#d0d3de"/>
 </radialGradient>
 <radialGradient id="nuc" cx="0.6" cy="0.45" r="0.6">
  <stop offset="0" stop-color="#e0e2f8"/><stop offset="0.25" stop-color="#a0a4de"/><stop offset="0.8" stop-color="#8589cc"/><stop offset="1" stop-color="#6367a6"/>
 </radialGradient>
</defs>
<path d="M120.4,22.4 C124,30 130,37 144,41 C158,45 168,50 166.7,60 C165.5,68 156,71 149,72.4" fill="none" stroke="#b2b2b6" stroke-width="2.1"/>
<path d="M150,78.9 C158,78.5 166,81 169.5,87 C172.5,93 170,99.5 165.5,103 C161,106.5 155,108.8 149,110.2 C142,111.8 136,115 131,120 C126,125 122,130 119.2,134" fill="none" stroke="#b2b2b6" stroke-width="2.1"/>
<g transform="rotate(-9.4 109.1 81.3)">
<ellipse cx="109.1" cy="81.3" rx="42.0" ry="32.2" fill="#cbcdd1" stroke="#b8babf" stroke-width="1.4"/>
<ellipse cx="109.4" cy="80.9" rx="39.3" ry="29.4" fill="none" stroke="#dcdee1" stroke-width="1.3"/>
<ellipse cx="109.5" cy="80.6" rx="38.2" ry="28.3" fill="url(#chl)"/>
<ellipse cx="109.5" cy="80.6" rx="37.3" ry="27.4" fill="none" stroke="#bcd48f" stroke-width="1.6"/>
</g>
<path d="M96.5,73 C97,67 102,64.5 110,64.5 L121,64.5 C126,58 134,54.5 142,56 C149,59 152.5,68 152,79 C151,89 146,96.5 138,99.3 C127,101.3 113,100.7 104,98.2 C98,95.5 96.3,88 96.5,80 Z" fill="url(#cyt)"/>
<ellipse cx="127.5" cy="61.2" rx="6.8" ry="3.3" fill="#cde0a8"/>
<circle cx="118.7" cy="80.8" r="9" fill="url(#nuc)"/>
<circle cx="118.7" cy="80.8" r="8.6" fill="none" stroke="#55589a" stroke-width="0.8"/>
<ellipse cx="143.3" cy="78.1" rx="5.7" ry="3.4" transform="rotate(-15 143.3 78.1)" fill="#e4467a" stroke="#f3d3de" stroke-width="0.8"/>
<ellipse cx="141.3" cy="89.9" rx="5.7" ry="3.1" transform="rotate(-10 141.3 89.9)" fill="#e4467a" stroke="#f3d3de" stroke-width="0.8"/>
<path d="M139.5,78.8 q1.5,-2.5 3,0 q1.5,-2.5 3,-0.5 M140,80 q2,-1 4,-0.5" fill="none" stroke="#b01e48" stroke-width="0.6"/>
<path d="M137.5,90.5 q1.5,-2.5 3,0 q1.5,-2.5 3,-0.5 M138,91.8 q2,-1 4,-0.5" fill="none" stroke="#b01e48" stroke-width="0.6"/>
<rect x="96" y="55.6" width="25.3" height="12.5" rx="2.8" fill="#6cbd45"/>
<text x="108.3" y="65.1" font-size="9.8" font-weight="bold" text-anchor="middle" fill="#1d4a12" textLength="15" lengthAdjust="spacingAndGlyphs" font-family="'Liberation Sans', sans-serif">PSII</text>
<path d="M62.5,52.5 C67,56 71,59 76,60.5 C82,62.2 88,63 96,63.6" fill="none" stroke="#111" stroke-width="1.6"/>
<path d="M76,60.5 C82,62.2 88,63 96,63.6" fill="none" stroke="#9a9a9a" stroke-width="0.5" stroke-dasharray="1.5,1.2"/>
<path d="M121.5,56 L131,47.8" fill="none" stroke="#111" stroke-width="3"/>
<path d="M121.5,56 L128,50.4" fill="none" stroke="#888" stroke-width="0.6" stroke-dasharray="1.2,1"/>
<polygon points="140.9,37 128.4,44.2 136.9,50.6" fill="#111"/>
<path d="M75.4,118.4 C79,112 85,106 92.5,102 C100,98 108,95.2 117,94.3 C128,93.6 140,96 152.5,103.5" fill="none" stroke="#111" stroke-width="1.7"/>
<path d="M88,104.8 C95,100.3 104,96.6 117,95.5 C128,95 138,97 148,101.8" fill="none" stroke="#111" stroke-width="2.6"/>
<path d="M90,103.8 C97,99.6 105,96.4 117,95.3 C128,94.8 138,96.8 147,101.2" fill="none" stroke="#9a9a9a" stroke-width="0.6" stroke-dasharray="1.6,1.1"/>
<polygon points="163.8,111.6 156.2,99.2 148.2,107.6" fill="#111"/>
<text x="43.4" y="51.6" font-size="10.8" font-weight="bold" font-family="'Liberation Sans', sans-serif"><tspan font-size="10.80" dy="0.00" fill="#111">H</tspan><tspan font-size="6.91" dy="2.20" fill="#111">2</tspan><tspan font-size="6.91" dy="-6.20" fill="#7030a0">16</tspan><tspan font-size="10.80" dy="4.00" fill="#7030a0">O</tspan></text>
<text x="134.4" y="32.9" font-size="10.8" font-weight="bold" font-family="'Liberation Sans', sans-serif"><tspan font-size="6.91" dy="-4.00" fill="#7030a0">16</tspan><tspan font-size="10.80" dy="4.00" fill="#7030a0">O</tspan><tspan font-size="6.91" dy="2.20" fill="#7030a0">2</tspan></text>
<text x="49.8" y="123.5" font-size="10.8" font-weight="bold" font-family="'Liberation Sans', sans-serif"><tspan font-size="6.91" dy="-4.00" fill="#f0701e">18</tspan><tspan font-size="10.80" dy="4.00" fill="#f0701e">O</tspan><tspan font-size="6.91" dy="2.20" fill="#f0701e">2</tspan></text>
<text x="69.8" y="135.4" font-size="10.8" font-weight="bold" font-family="'Liberation Sans', sans-serif"><tspan font-size="6.91" dy="-4.00" fill="#7030a0">16</tspan><tspan font-size="10.80" dy="4.00" fill="#7030a0">O</tspan><tspan font-size="6.91" dy="2.20" fill="#7030a0">2</tspan></text>
<text x="170.6" y="112.2" font-size="10.8" font-weight="bold" font-family="'Liberation Sans', sans-serif"><tspan font-size="10.80" dy="0.00" fill="#111">H</tspan><tspan font-size="6.91" dy="2.20" fill="#111">2</tspan><tspan font-size="6.91" dy="-6.20" fill="#f0701e">18</tspan><tspan font-size="10.80" dy="4.00" fill="#f0701e">O</tspan></text>
<text x="153.2" y="127.2" font-size="10.8" font-weight="bold" font-family="'Liberation Sans', sans-serif"><tspan font-size="10.80" dy="0.00" fill="#111">H</tspan><tspan font-size="6.91" dy="2.20" fill="#111">2</tspan><tspan font-size="6.91" dy="-6.20" fill="#7030a0">16</tspan><tspan font-size="10.80" dy="4.00" fill="#7030a0">O</tspan></text>
<text x="3.00" y="7.90" font-size="7.6" text-anchor="start" font-weight="bold" fill="#111" >A</text>
<text x="211.30" y="7.90" font-size="7.6" text-anchor="start" font-weight="bold" fill="#111" >B</text>
<text x="3.00" y="175.60" font-size="7.6" text-anchor="start" font-weight="bold" fill="#111" >C</text>
<text x="211.10" y="175.60" font-size="7.6" text-anchor="start" font-weight="bold" fill="#111" >D</text></svg>
</body></html>
